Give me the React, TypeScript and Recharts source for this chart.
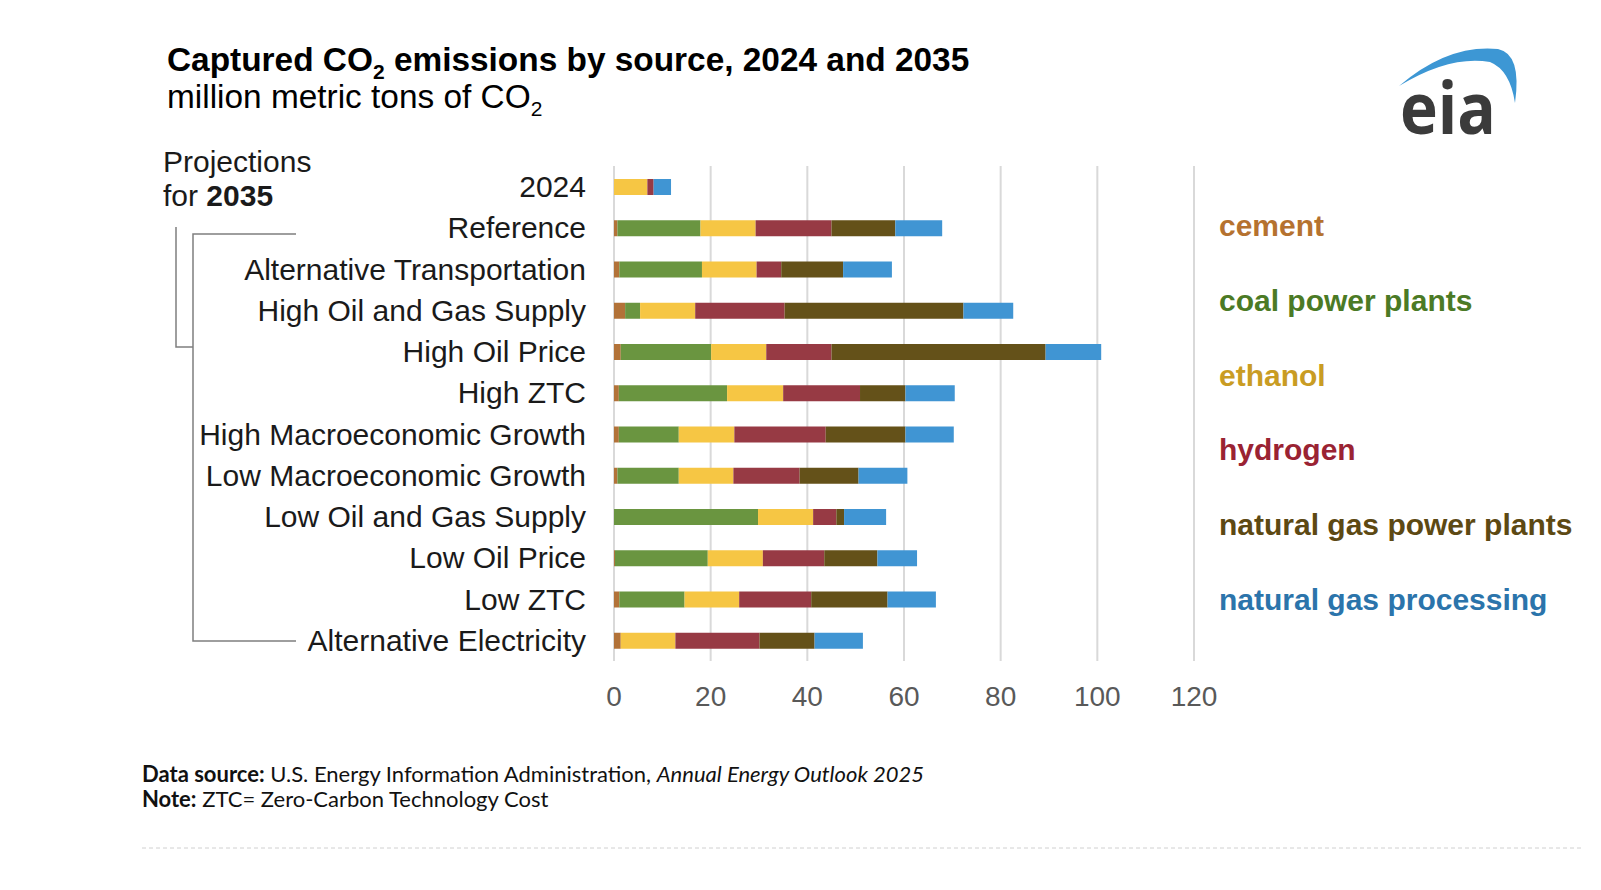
import React from 'react';
import { BarChart, Bar, XAxis, YAxis, CartesianGrid, Legend } from 'recharts';

const CATEGORIES = [
  '2024',
  'Reference',
  'Alternative Transportation',
  'High Oil and Gas Supply',
  'High Oil Price',
  'High ZTC',
  'High Macroeconomic Growth',
  'Low Macroeconomic Growth',
  'Low Oil and Gas Supply',
  'Low Oil Price',
  'Low ZTC',
  'Alternative Electricity',
];

const CEMENT = [0, 0.7, 1.1, 2.3, 1.4, 1.0, 1.0, 0.7, 0, 0.2, 1.1, 1.4];
const COAL = [0, 17.2, 17.1, 3.1, 18.7, 22.4, 12.4, 12.7, 29.8, 19.2, 13.5, 0];
const ETHANOL = [6.9, 11.4, 11.3, 11.4, 11.4, 11.6, 11.5, 11.3, 11.4, 11.4, 11.3, 11.3];
const HYDROGEN = [1.3, 15.7, 5.1, 18.5, 13.5, 15.9, 18.9, 13.7, 4.8, 12.7, 14.9, 17.4];
const NG_POWER = [0, 13.2, 12.8, 37.0, 44.3, 9.4, 16.5, 12.2, 1.6, 11.0, 15.8, 11.4];
const NG_PROCESSING = [3.6, 9.7, 10.1, 10.3, 11.5, 10.2, 10.0, 10.1, 8.7, 8.2, 10.0, 10.0];

const X_TICKS = [0, 20, 40, 60, 80, 100, 120];

const SERIES = [
  { key: 'cement', name: 'cement', values: CEMENT, fill: '#b27238', text: '#b5722f' },
  { key: 'coal', name: 'coal power plants', values: COAL, fill: '#6a9540', text: '#4b7a25' },
  { key: 'ethanol', name: 'ethanol', values: ETHANOL, fill: '#f6c644', text: '#c99c23' },
  { key: 'hydrogen', name: 'hydrogen', values: HYDROGEN, fill: '#973a44', text: '#9a2333' },
  { key: 'ngPower', name: 'natural gas power plants', values: NG_POWER, fill: '#645119', text: '#5d4913' },
  { key: 'ngProc', name: 'natural gas processing', values: NG_PROCESSING, fill: '#4095d3', text: '#2b74ab' },
];

const data = CATEGORIES.map((name, i) => {
  const row: Record<string, string | number> = { name };
  SERIES.forEach((s) => {
    row[s.key] = s.values[i];
  });
  return row;
});

const FONT = 'Liberation Sans, Arial, sans-serif';

const CategoryTick = (props: any) => {
  const { x, y, payload } = props;
  return (
    <text x={x} y={y} textAnchor="end" dominantBaseline="central" fontFamily={FONT} fontSize={30} fill="#1a1a1a">
      {payload.value}
    </text>
  );
};

const ValueTick = (props: any) => {
  const { x, y, payload } = props;
  return (
    <text x={x} y={y + 35} textAnchor="middle" dominantBaseline="central" fontFamily={FONT} fontSize={28} fill="#595959">
      {payload.value}
    </text>
  );
};

const LegendList = () => (
  <div style={{ fontFamily: FONT, fontWeight: 700, fontSize: 30 }}>
    {SERIES.map((s) => (
      <div key={s.key} style={{ color: s.text, height: 74.75, lineHeight: '34px', whiteSpace: 'nowrap' }}>
        {s.name}
      </div>
    ))}
  </div>
);

export default function App() {
  return (
    <div style={{ position: 'absolute', left: 0, top: 0, width: 1601, height: 890, background: '#fff', overflow: 'hidden' }}>
      <BarChart
        width={1601}
        height={890}
        data={data}
        layout="vertical"
        margin={{ top: 166, right: 407, bottom: 169, left: 214 }}
        barSize={16}
      >
        <CartesianGrid horizontal={false} stroke="#d9d9d9" strokeWidth={2} />
        <XAxis
          type="number"
          domain={[0, 120]}
          ticks={X_TICKS}
          axisLine={false}
          tickLine={false}
          tickSize={0}
          tickMargin={0}
          height={60}
          tick={<ValueTick />}
        />
        <YAxis
          type="category"
          dataKey="name"
          width={400}
          axisLine={false}
          tickLine={false}
          tickSize={0}
          tickMargin={28}
          interval={0}
          tick={<CategoryTick />}
        />
        <Legend
          layout="horizontal"
          verticalAlign="middle"
          align="center"
          content={<LegendList />}
          wrapperStyle={{ position: 'absolute', left: 1219, top: 209, width: 380 }}
        />
        {SERIES.map((s) => (
          <Bar key={s.key} dataKey={s.key} name={s.name} stackId="a" fill={s.fill} isAnimationActive={false} />
        ))}
      </BarChart>

      <svg
        width={1601}
        height={890}
        style={{ position: 'absolute', left: 0, top: 0, pointerEvents: 'none' }}
      >
        {/* title */}
        <text x={167} y={71} fontFamily={FONT} fontWeight={700} fontSize={33.4} fill="#000">
          Captured CO
          <tspan fontSize={21} dy={8}>2</tspan>
          <tspan dy={-8}> emissions by source, 2024 and 2035</tspan>
        </text>
        <text x={167} y={108} fontFamily={FONT} fontSize={33.4} fill="#000">
          million metric tons of CO
          <tspan fontSize={21} dy={8}>2</tspan>
        </text>

        {/* projections label */}
        <text x={163} y={172} fontFamily={FONT} fontSize={30} fill="#1a1a1a">Projections</text>
        <text x={163} y={206} fontFamily={FONT} fontSize={30} fill="#1a1a1a">
          for <tspan fontWeight={700}>2035</tspan>
        </text>

        {/* brackets */}
        <polyline points="176,227 176,347 193,347" fill="none" stroke="#7f7f7f" strokeWidth={1.5} />
        <polyline points="296,234 193,234 193,641 296,641" fill="none" stroke="#7f7f7f" strokeWidth={1.5} />

        {/* eia logo */}
        <path
          d="M1399 86 Q1448 44 1498 49 Q1522 54 1515 103 Q1510 70 1490 62 Q1450 55 1399 86 Z"
          fill="#3d97d4"
        />
        <text
          x={1400}
          y={134}
          fontFamily="Open Sans, sans-serif"
          fontWeight={700}
          fontSize={72}
          fill="#3b3b3b"
          textLength={96}
          lengthAdjust="spacingAndGlyphs"
        >
          eia
        </text>

        {/* footer */}
        <text x={142} y={782} fontFamily="Lato, sans-serif" fontSize={22} fill="#111">
          <tspan fontWeight={700}>Data source:</tspan> U.S. Energy Information Administration,{' '}
          <tspan fontStyle="italic">Annual Energy Outlook 2025</tspan>
        </text>
        <text x={142} y={807} fontFamily="Lato, sans-serif" fontSize={22} fill="#111">
          <tspan fontWeight={700}>Note:</tspan> ZTC= Zero-Carbon Technology Cost
        </text>
        <line x1={142} y1={848} x2={1584} y2={848} stroke="#d0d0d0" strokeWidth={1} strokeDasharray="4 3" />
      </svg>
    </div>
  );
}
